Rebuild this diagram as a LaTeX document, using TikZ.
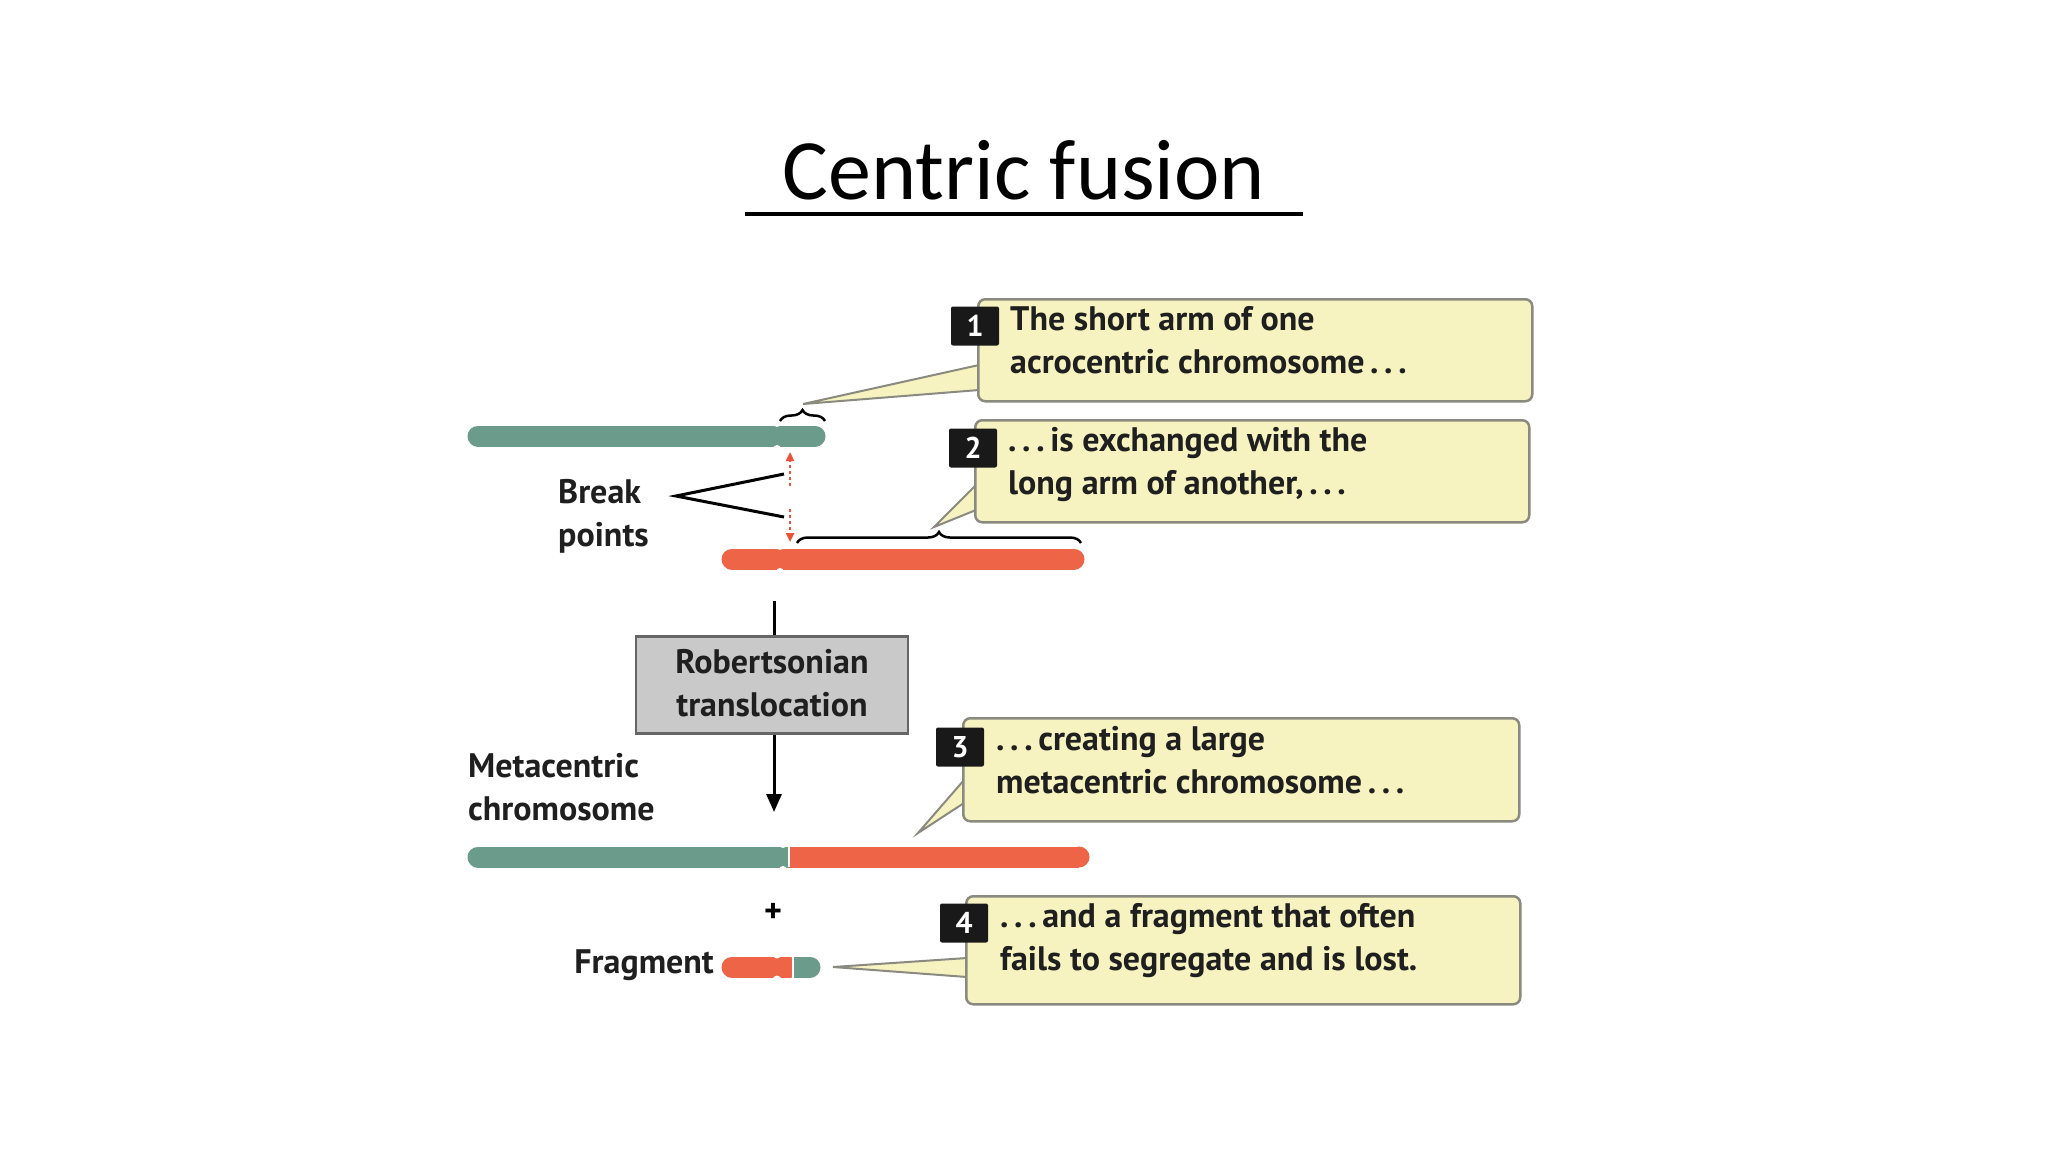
\documentclass[tikz,border=0pt]{standalone}
\usepackage{fontspec}
\setmainfont{PT Sans}
\newfontfamily\titlefont{Carlito}
\usetikzlibrary{decorations.pathreplacing,arrows.meta}
\definecolor{chg}{HTML}{6B9B8B}
\definecolor{chr}{HTML}{EE6446}
\definecolor{boxf}{HTML}{F6F3C0}
\definecolor{boxd}{HTML}{8A8A80}
\definecolor{grayf}{HTML}{C9C9C9}
\tikzset{
 lbl/.style={font=\fontsize{34}{43}\selectfont\bfseries,align=left,inner sep=0pt,text=black!88},
 box/.style={draw=boxd,line width=2.5pt,fill=boxf,rounded corners=7pt,inner sep=0pt},
 badge/.style={fill=black!90,text=white,font=\fontsize{30}{30}\selectfont\bfseries,minimum width=48pt,minimum height=39pt,inner sep=0pt,rounded corners=2pt},
 wedge/.style={fill=boxf,draw=boxd,line width=2pt,line join=miter},
 chrom/.style={line width=21pt,line cap=round},
 notch/.style={fill=white,draw=none},
 brc/.style={decorate,decoration={brace,amplitude=11pt},line width=2.5pt},
}
\begin{document}
\begin{tikzpicture}[x=1pt,y=-1pt]
\useasboundingbox[fill=white] (0,0) rectangle (2048,1152);
% title
\node[font=\titlefont\fontsize{86}{90}\selectfont,inner sep=0pt] (title) at (1024,170) {Centric fusion};
\draw[line width=3.5pt] (745,214) -- (1303,214);

% chromosome 1 (green)
\draw[chrom,chg] (478,436) -- (815,436);
\fill[notch] (777,423) circle (4pt) (777,449) circle (4pt);
% chromosome 2 (red)
\draw[chrom,chr] (732,559) -- (1074,559);
\fill[notch] (780,546) circle (4pt) (780,572) circle (4pt);

% braces
\draw[brc] (780,421) -- (825,421) coordinate[pos=.5] (b1);
\coordinate (b1t) at (803,404);
\draw[brc] (797,543) -- (1081,543);
\coordinate (b2t) at (934,527);

% break points
\node[lbl,anchor=west] (brk) at (558,516) {Break\\points};
\coordinate (bv) at (676,496);
\coordinate (bu) at (784,474);
\coordinate (bd) at (784,517);
\draw[line width=3pt] (bu) -- (bv) -- (bd);
\coordinate (ra1) at (790,486); \coordinate (ra1t) at (790,452);
\coordinate (ra2) at (790,509); \coordinate (ra2t) at (790,542);
\draw[chr!80!red,line width=2.5pt,dashed,-{Triangle[length=9pt,width=8pt]}] (ra1) -- (ra1t);
\draw[chr!80!red,line width=2.5pt,dashed,-{Triangle[length=9pt,width=8pt]}] (ra2) -- (ra2t);

% box 1
\draw[wedge] (979,365) -- (b1t) -- (979,390);
\node[box,minimum width=554pt,minimum height=102pt,anchor=north west] (box1) at (977,298) {};
\node[badge] (n1) at (975,326) {1};
\node[lbl,anchor=north west] (t1) at (1010,306) {The short arm of one\\acrocentric chromosome\,.\,.\,.};

% box 2
\draw[wedge] (976,485) -- (b2t) -- (976,510);
\node[box,minimum width=554pt,minimum height=102pt,anchor=north west] (box2) at (974,419) {};
\node[badge] (n2) at (973,448) {2};
\node[lbl,anchor=north west] (t2) at (1008,427) {.\,.\,.\,is exchanged with the\\long arm of another,\,.\,.\,.};

% arrow + gray box
\coordinate (ar1) at (774,601);
\coordinate (ar2) at (774,812);
\node[draw=black!60,line width=2.5pt,fill=grayf,minimum width=272pt,minimum height=97pt,inner sep=0pt] (rt) at (772,685) {};
\draw[line width=3pt] (ar1) -- (rt.north -| ar1);
\draw[line width=3pt,-{Triangle[length=18pt,width=15pt]}] (rt.south -| ar2) -- (ar2);
\node[lbl,align=center,anchor=center] (rtt) at (772,683) {Robertsonian\\translocation};

% metacentric
\node[lbl,anchor=north west] (meta) at (468,753) {Metacentric\\chromosome};
\draw[chrom,chg] (478,857) -- (789,857);
\draw[chrom,chr,line cap=butt] (789,857) -- (1079,857);
\fill[chr] (1079,857) circle (10.5pt);
\fill[notch] (783,844) circle (4pt) (783,870) circle (4pt);
\draw[white,line width=1.5pt] (789,847) -- (789,867);

% box 3
\coordinate (b3t) at (918,833);
\draw[wedge] (964,780) -- (b3t) -- (964,803);
\node[box,minimum width=556pt,minimum height=103pt,anchor=north west] (box3) at (962,717) {};
\node[badge] (n3) at (960,747) {3};
\node[lbl,anchor=north west] (t3) at (996,726) {.\,.\,.\,creating a large\\metacentric chromosome\,.\,.\,.};

% plus & fragment
\node[font=\fontsize{34}{34}\selectfont\bfseries,inner sep=0pt] (plus) at (773,913) {+};
\node[lbl,anchor=east] (frag) at (714,965) {Fragment};
\draw[chr,line width=21pt,line cap=round] (732,967) -- (790,967);
\draw[chg,line width=21pt,line cap=round] (803,967) -- (810,967);
\fill[chg] (793,956.5) rectangle (803,977.5);
\fill[notch] (777,954) circle (4.5pt) (777,980) circle (4.5pt);
\draw[white,line width=2pt] (793,955) -- (793,979);

% box 4
\coordinate (b4t) at (833,967);
\draw[wedge] (967,958) -- (b4t) -- (967,977);
\node[box,minimum width=554pt,minimum height=108pt,anchor=north west] (box4) at (965,895) {};
\node[badge] (n4) at (964,923) {4};
\node[lbl,anchor=north west] (t4) at (1000,903) {.\,.\,.\,and a fragment that often\\fails to segregate and is lost.};
\end{tikzpicture}
\end{document}
